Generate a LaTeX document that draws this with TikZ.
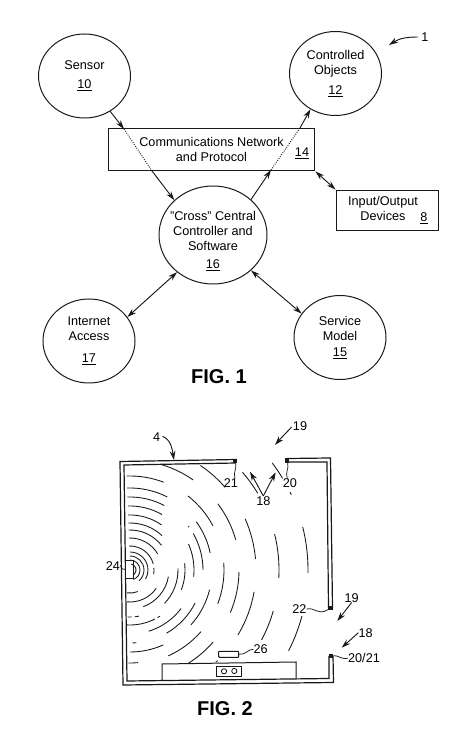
\documentclass[tikz,border=0pt]{standalone}
\usepackage{fontspec}
\setmainfont{Liberation Sans}
\usetikzlibrary{arrows.meta, shapes.geometric}

\begin{document}
\begin{tikzpicture}[
    x=0.75pt, y=0.75pt,
    every node/.style={font=\fontsize{9.5}{11}\selectfont, align=center},
    unit/.style={
      draw=black!90, ellipse, inner sep=0pt, line width=0.75pt,
      minimum width=69pt, minimum height=63pt,
    },
    hub/.style={unit, minimum width=81pt, minimum height=73.5pt},
    panel/.style={draw=black!90, rectangle, inner sep=0pt, line width=0.75pt},
    tag/.style={inner sep=0pt},
    figlabel/.style={font=\fontsize{15}{18}\selectfont\bfseries, inner sep=0pt},
    link/.style={-{Stealth[length=2.4mm, width=1.5mm]}, line width=0.7pt, black!90},
    both/.style={{Stealth[length=2.4mm, width=1.5mm]}-{Stealth[length=2.4mm, width=1.5mm]}, line width=0.7pt, black!90},
    hidden/.style={densely dotted, line width=0.7pt, black!90},
    leader/.style={line width=0.55pt, black!90},
    wall/.style={line width=0.9pt, black!90, line join=miter},
    ring/.style={line width=0.65pt, black!90},
    post/.style={fill=black!90, inner sep=0pt, minimum size=3.2pt, rectangle},
]
\useasboundingbox (0,0) rectangle (474,740);

% Fig. 1 blocks
\node[unit] (sensor) at (84.5,664) {Sensor\\[3pt]\underline{10}};
\node[unit] (objects) at (335.5,666.5) {Controlled\\Objects\\[4pt]\underline{12}};
\node[panel, minimum width=155.2pt, minimum height=32.2pt] (net) at (211.5,590.5)
  {Communications Network\\and Protocol};
\node[tag] (n14) at (302,587) {\underline{14}};
\node[panel, minimum width=77.2pt, minimum height=30.7pt] (io) at (387.5,529.5) {};
\node[tag] (iotext) at (383,531.5) {Input/Output\\Devices};
\node[tag] (n8) at (424,522) {\underline{8}};
\node[hub] (central) at (213,505) {};
\node[tag] (centraltext) at (213,498.5)
  {"Cross" Central\\Controller and\\Software\\[3pt]\underline{16}};
\node[unit] (internet) at (89,399) {Internet\\Access\\[6pt]\underline{17}};
\node[unit] (service) at (340,402.5) {Service\\Model\\[1pt]\underline{15}};
\node[figlabel] (fig1) at (219,363) {FIG. 1};

% where the arrows pass under the network box
\coordinate (s1) at (124,611);
\coordinate (s2) at (152,569);
\coordinate (c1) at (271,570);
\coordinate (c2) at (300,612);

\draw[link] (sensor.306) -- (s1);
\draw[hidden] (s1) -- (s2);
\draw[link] (s2) -- (central.138);
\draw[link] (central.43) -- (c1);
\draw[hidden] (c1) -- (c2);
\draw[link] (c2) -- (objects.235);
\draw[both] (net.south east) -- (io.north west);
\draw[both] (central.226) -- (internet.32);
\draw[both] (central.317) -- (service.148);

\node[tag] (n1) at (425,703) {1};
\coordinate (a1) at (389,695);
\draw[link] (n1.west) ++(-3,0) .. controls (408,703) and (400,702) .. (a1);

% Fig. 2 room
\draw[wall] (237,280.5) -- (120,278.5) -- (123,55) -- (333.5,57.5) -- (333,84);
\draw[wall] (236,277) -- (124,275) -- (127,59) -- (329,61.5) -- (329,84);
\draw[wall] (287,281.5) -- (330.5,282) -- (332.5,132);
\draw[wall] (287,278) -- (327,278) -- (328.5,132);
\node[post] (p21) at (235,279) {};
\node[post] (p20) at (287.3,279.5) {};
\node[post] (p22) at (330.5,132) {};
\node[post] (p2021) at (331,84) {};

% counter, hob and box
\draw[line width=0.75pt, black!90] (162,60) -- (162,76) -- (296,78) -- (296,61.5);
\node[panel, minimum width=18.5pt, minimum height=6.8pt] (hob) at (229,68.5) {};
\draw[line width=0.55pt] (224,68.7) circle (2.6);
\draw[line width=0.55pt] (234.3,69) circle (2.6);
\node[panel, rounded corners=0.5pt, minimum width=15pt, minimum height=4.5pt] (box26) at (228.7,85.7) {};

% emitter and its rings
\node[panel, fill=white, minimum width=5.4pt, minimum height=12.8pt] (emitter) at (129.5,170.5) {};
\coordinate (src) at (130,170);
\foreach \r/\a/\b in {
    6/80/-60, 10/90/-70, 14/90/-50, 18/90/-30, 24/92/15, 24/5/-10, 23/-97/-70, 32/92/30, 32/-95/-35,
    40/92/38, 39/-70/-10, 47/92/47, 48/-44/2, 47/-93/-88, 47/-84/-79,
    55/92/55, 55/7/-21, 55/-93/-63, 55/-60/-57,
    64/92/60, 64/24/-6, 64/-73/-37, 73/92/62, 73/30/0, 73/37/36, 73/-60/-27, 73/-88/-85,
    82/92/63, 82/36/12, 82/-14/-42, 82/-90/-66,
    94/92/69, 94/52/28, 94/4.5/-21, 94/-41/-66, 93/-91/-85,
    110/74/55, 110/37/16, 109/-1/-23, 110/-41/-58,
    126/56/41, 126/24/5, 126/-10/-31, 126/-46/-47,
    149/41/31, 149/14/-3, 149/-16/-28,
    178/37/31, 178/26/25, 178/14/-1, 178/-15/-27}
  \draw[ring] ([shift={(\a:\r)}]src) arc[start angle=\a, end angle=\b, radius=\r];

% Fig. 2 reference numbers
\node[tag] (n4) at (156.7,302.7) {4};
\coordinate (a4) at (174,280);
\draw[link] (n4.east) ++(2,1) .. controls (171,300) and (172,292) .. (a4);

\node[tag] (n19a) at (300,314) {19};
\coordinate (a19a) at (275,295);
\draw[link] (n19a.west) ++(-1,-1) .. controls (286,307) and (282,303) .. (a19a);

\node[tag] (n21) at (231,256.7) {21};
\draw[leader] (p21) .. controls (237,271) and (233,268) .. (n21.north -| p21);
\node[tag] (n20) at (290,256.7) {20};
\draw[leader] (p20) .. controls (289,271) and (285,268) .. (n20.north -| p20);

\node[tag] (n18a) at (263.3,239.3) {18};
\coordinate (a18l) at (250,268.3);
\coordinate (a18r) at (275.7,267.7);
\draw[link] (n18a.north) -- (a18l);
\draw[link] (n18a.north) -- (a18r);

\node[tag] (n24) at (113,174) {24};
\draw[leader] (n24.east) .. controls (121,176) and (120,170) .. (emitter.west);

\node[tag] (n22) at (299.3,131) {22};
\draw[leader] (n22.east) .. controls (315,133) and (318,124) .. (p22);

\node[tag] (n19b) at (351.7,142.3) {19};
\coordinate (a19b) at (337.3,119);
\draw[link] (n19b.south) -- (a19b);

\node[tag] (n18b) at (365.7,107.3) {18};
\coordinate (a18b) at (341.7,92.3);
\draw[link] (n18b.west) -- (a18b);

\node[tag] (n2021) at (364,81.7) {20/21};
\draw[leader] (n2021.west) .. controls (342,80) and (338,85) .. (p2021);

\node[tag] (n26) at (260.7,90.7) {26};
\draw[leader] (n26.west) .. controls (248,91) and (246,85) .. (box26.east);

\node[figlabel] (fig2) at (225,31) {FIG. 2};
\end{tikzpicture}
\end{document}
